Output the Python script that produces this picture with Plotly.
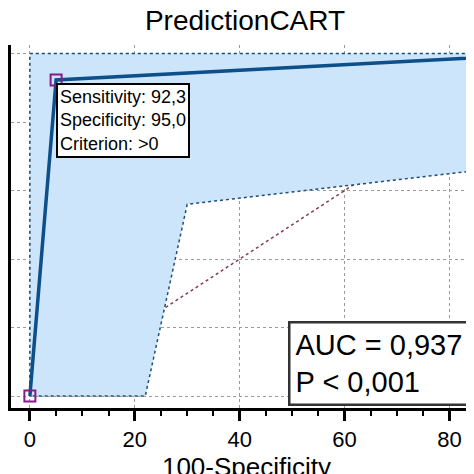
import plotly.graph_objects as go

roc_x = [0, 5, 100]
roc_y = [0, 92.3, 100]
upper_x = [0, 100]
upper_y = [100, 100]
lower_x = [0, 22, 30, 100]
lower_y = [0, 0, 56, 68.5]
diag = [0, 100]
op_x = [0, 5]
op_y = [0, 92.3]

fig = go.Figure()
fig.add_trace(go.Scatter(x=diag, y=diag, mode="lines",
                         line=dict(color="#8b3a4a", width=1.5, dash="dot")))
poly_x = upper_x + lower_x[::-1]
poly_y = upper_y + lower_y[::-1]
fig.add_trace(go.Scatter(x=poly_x + [poly_x[0]], y=poly_y + [poly_y[0]], mode="lines",
                         fill="toself", fillcolor="#cce5fa",
                         line=dict(color="#1f4e79", width=1.5, dash="dot")))
fig.add_trace(go.Scatter(x=roc_x, y=roc_y, mode="lines",
                         line=dict(color="#0d4f8b", width=3.5)))
fig.add_trace(go.Scatter(x=op_x, y=op_y, mode="markers",
                         marker=dict(symbol="square-open", size=11, color="#8a1a8a",
                                     line=dict(width=2))))

axis_common = dict(showline=True, linecolor="black", linewidth=3, ticks="outside",
                   ticklen=10, tickwidth=3, tickcolor="black", zeroline=False,
                   showgrid=True, gridcolor="#9a9a9a", griddash="dot", gridwidth=1,
                   dtick=20, tick0=0, automargin=False,
                   minor=dict(ticks="outside", ticklen=5, tickwidth=1.5,
                              tickcolor="black", dtick=5, showgrid=False))
fig.update_xaxes(range=[-3.6, 86.2], tickfont=dict(size=22, color="black"),
                 title=dict(text="100-Specificity", font=dict(size=26, color="black"),
                            standoff=6), **axis_common)
fig.update_yaxes(range=[-3.5, 102.5], showticklabels=False, **axis_common)

fig.add_annotation(x=5.0, y=91.5, xref="x", yref="y",
                   text="Sensitivity: 92,3<br>Specificity: 95,0<br>Criterion: >0",
                   showarrow=False, xanchor="left", yanchor="top", align="left",
                   font=dict(size=18, color="black", family="Liberation Sans, Arial"),
                   bgcolor="white", bordercolor="black", borderwidth=2, borderpad=2)
fig.add_annotation(x=49.2, y=22, xref="x", yref="y",
                   text="AUC = 0,937<br>P < 0,001",
                   showarrow=False, xanchor="left", yanchor="top", align="left",
                   font=dict(size=29, color="black", family="Liberation Sans, Arial"),
                   bgcolor="white", bordercolor="#333333", borderwidth=2.5, borderpad=5)

fig.update_layout(width=474, height=474, showlegend=False,
                  plot_bgcolor="white", paper_bgcolor="white",
                  font=dict(family="Liberation Sans, Arial", color="black"),
                  margin=dict(l=3, r=0, t=37, b=74),
                  title=dict(text="PredictionCART", x=0.5, xanchor="center",
                             y=0.995, yanchor="top", font=dict(size=28, color="black")))
fig.write_html("out.html")
